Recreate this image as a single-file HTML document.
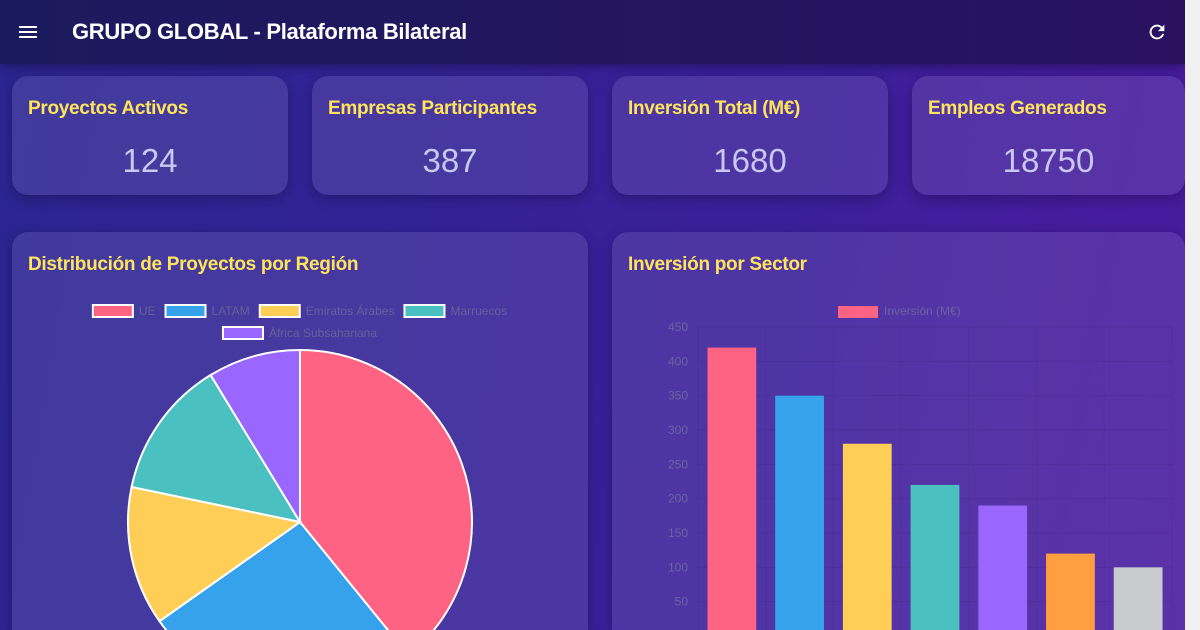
<!DOCTYPE html>
<html><head><meta charset="utf-8">
<style>
*{box-sizing:border-box;margin:0;padding:0}
html,body{width:1200px;height:630px;overflow:hidden}
body{font-family:"Liberation Sans",sans-serif;background:linear-gradient(100deg,#2a2590 0%,#3a1f9a 60%,#4a1a9e 100%);position:relative}
.scroll{position:absolute;right:0;top:0;width:15px;height:630px;background:#f1f1f1}
.header{position:absolute;left:0;top:0;width:1185px;height:64px;background:linear-gradient(90deg,#1c1a5e,#2a1260);box-shadow:0 2px 10px rgba(0,0,0,.4)}
.title{position:absolute;left:72px;top:19px;color:#fff;font-weight:bold;font-size:22px;letter-spacing:-0.3px}
.card{position:absolute;background:rgba(255,255,255,.1);border-radius:16px;box-shadow:0 4px 12px rgba(0,0,0,.25)}
.kpi-t{position:absolute;left:16px;top:22px;color:#ffe45c;font-weight:bold;font-size:19px;letter-spacing:-0.3px}
.kpi-v{position:absolute;left:0;right:0;top:66px;text-align:center;color:#c8c8f0;font-size:33px}
.ct{position:absolute;left:16px;top:22px;color:#ffe45c;font-weight:bold;font-size:19px;letter-spacing:-0.3px}
</style></head><body>
<div class="header">
 <svg style="position:absolute;left:18px;top:22px" width="20" height="20"><rect x="1" y="4" width="18" height="2" fill="#fff"/><rect x="1" y="9" width="18" height="2" fill="#fff"/><rect x="1" y="14" width="18" height="2" fill="#fff"/></svg>
 <div class="title">GRUPO GLOBAL - Plataforma Bilateral</div>
 <svg style="position:absolute;left:1146px;top:21px" width="22" height="22" viewBox="0 0 24 24"><path d="M17.65 6.35A7.95 7.95 0 0 0 12 4a8 8 0 1 0 7.73 10h-2.08A6 6 0 1 1 12 6c1.66 0 3.14.69 4.22 1.78L13 11h7V4z" fill="#fff"/></svg>
</div>
<div class="card" style="left:12px;top:76px;width:276px;height:119px"><div class="kpi-t">Proyectos Activos</div><div class="kpi-v">124</div></div>
<div class="card" style="left:312px;top:76px;width:276px;height:119px"><div class="kpi-t">Empresas Participantes</div><div class="kpi-v">387</div></div>
<div class="card" style="left:612px;top:76px;width:276px;height:119px"><div class="kpi-t">Inversión Total (M€)</div><div class="kpi-v">1680</div></div>
<div class="card" style="left:912px;top:76px;width:273px;height:119px"><div class="kpi-t">Empleos Generados</div><div class="kpi-v">18750</div></div>
<div class="card" style="left:12px;top:232px;width:576px;height:398px;border-radius:16px 16px 0 0"><div class="ct">Distribución de Proyectos por Región</div></div>
<div class="card" style="left:612px;top:232px;width:573px;height:398px;border-radius:16px 16px 0 0"><div class="ct">Inversión por Sector</div></div>
<svg id="pie" style="position:absolute;left:0;top:0" width="600" height="630"></svg>
<svg id="bar" style="position:absolute;left:0;top:0" width="1200" height="630"></svg>
<div class="scroll"></div>
<script>
const regions=["UE","LATAM","Emiratos Árabes","Marruecos","África Subsahariana"];
const regionValues=[45,30,15,15,10];
const regionColors=["#ff6384","#36a2eb","#ffce56","#4bc0c0","#9966ff"];
const sectors=["S1","S2","S3","S4","S5","S6","S7"];
const investValues=[420,350,280,220,190,120,100];
const barColors=["#ff6384","#36a2eb","#ffce56","#4bc0c0","#9966ff","#ff9f40","#c9cbcf"];
const yTicks=[50,100,150,200,250,300,350,400,450];
const NS="http://www.w3.org/2000/svg";
function mk(p,t,a){const e=document.createElementNS(NS,t);for(const k in a)e.setAttribute(k,a[k]);p.appendChild(e);return e;}
// pie
const pie=document.getElementById('pie');
const cx=300,cy=522,r=172;
const tot=regionValues.reduce((a,b)=>a+b,0);
let ang=0;
regionValues.forEach((v,i)=>{
 const a0=ang,a1=ang+v/tot*2*Math.PI;ang=a1;
 const x0=cx+r*Math.sin(a0),y0=cy-r*Math.cos(a0),x1=cx+r*Math.sin(a1),y1=cy-r*Math.cos(a1);
 const p=mk(pie,'path',{d:`M${cx},${cy}L${x0},${y0}A${r},${r} 0 ${a1-a0>Math.PI?1:0} 1 ${x1},${y1}Z`,fill:regionColors[i],stroke:'#fff','stroke-width':2});
 
 
});
// pie legend (measured)
const rows=[[0,1,2,3],[4]];
const ly=[311,333];
rows.forEach((row,ri)=>{
 const items=row.map(i=>{
  const g=mk(pie,'g',{});
  
  
  const rc=mk(g,'rect',{x:0,y:ly[ri]-6,width:40,height:12,fill:regionColors[i],stroke:'#fff','stroke-width':2});
  const t=mk(g,'text',{x:0,y:ly[ri]+4,fill:'#66619a','font-size':12,'font-family':'Liberation Sans,sans-serif'});
  t.textContent=regions[i];
  return {rc,t,w:46+t.getComputedTextLength()};
 });
 const gap=10;
 const totw=items.reduce((a,b)=>a+b.w,0)+gap*(items.length-1);
 let x=300-totw/2;
 items.forEach(it=>{it.rc.setAttribute('x',x);it.t.setAttribute('x',x+46);x+=it.w+gap;});
});
// bar
const bar=document.getElementById('bar');
const X0=698,X1=1172,Y0=636,Ymax=450,Ytop=327;
const ys=v=>Y0-(v/Ymax)*(Y0-Ytop);
const bw=(X1-X0)/sectors.length;
yTicks.forEach(t=>{
 mk(bar,'line',{x1:X0,x2:X1,y1:ys(t),y2:ys(t),stroke:'rgba(0,0,0,0.06)'});
 const tx=mk(bar,'text',{x:X0-10,y:ys(t)+4,'text-anchor':'end',fill:'#6a64a0','font-size':12,'font-family':'Liberation Sans,sans-serif'});
 tx.textContent=t;
});
for(let i=0;i<=sectors.length;i++)mk(bar,'line',{x1:X0+i*bw,x2:X0+i*bw,y1:Ytop,y2:630,stroke:'rgba(0,0,0,0.06)'});
investValues.forEach((v,i)=>{
 const w=bw*0.72;
 const b=mk(bar,'rect',{x:X0+i*bw+(bw-w)/2,y:ys(v),width:w,height:Y0-ys(v),fill:barColors[i]});
 
 
});
const lg=mk(bar,'g',{});


mk(lg,'rect',{x:838,y:306,width:40,height:12,fill:'#ff6384'});
const lt=mk(lg,'text',{x:884,y:315,fill:'#6a64a0','font-size':12,'font-family':'Liberation Sans,sans-serif'});
lt.textContent='Inversión (M€)';
</script>
</body></html>
